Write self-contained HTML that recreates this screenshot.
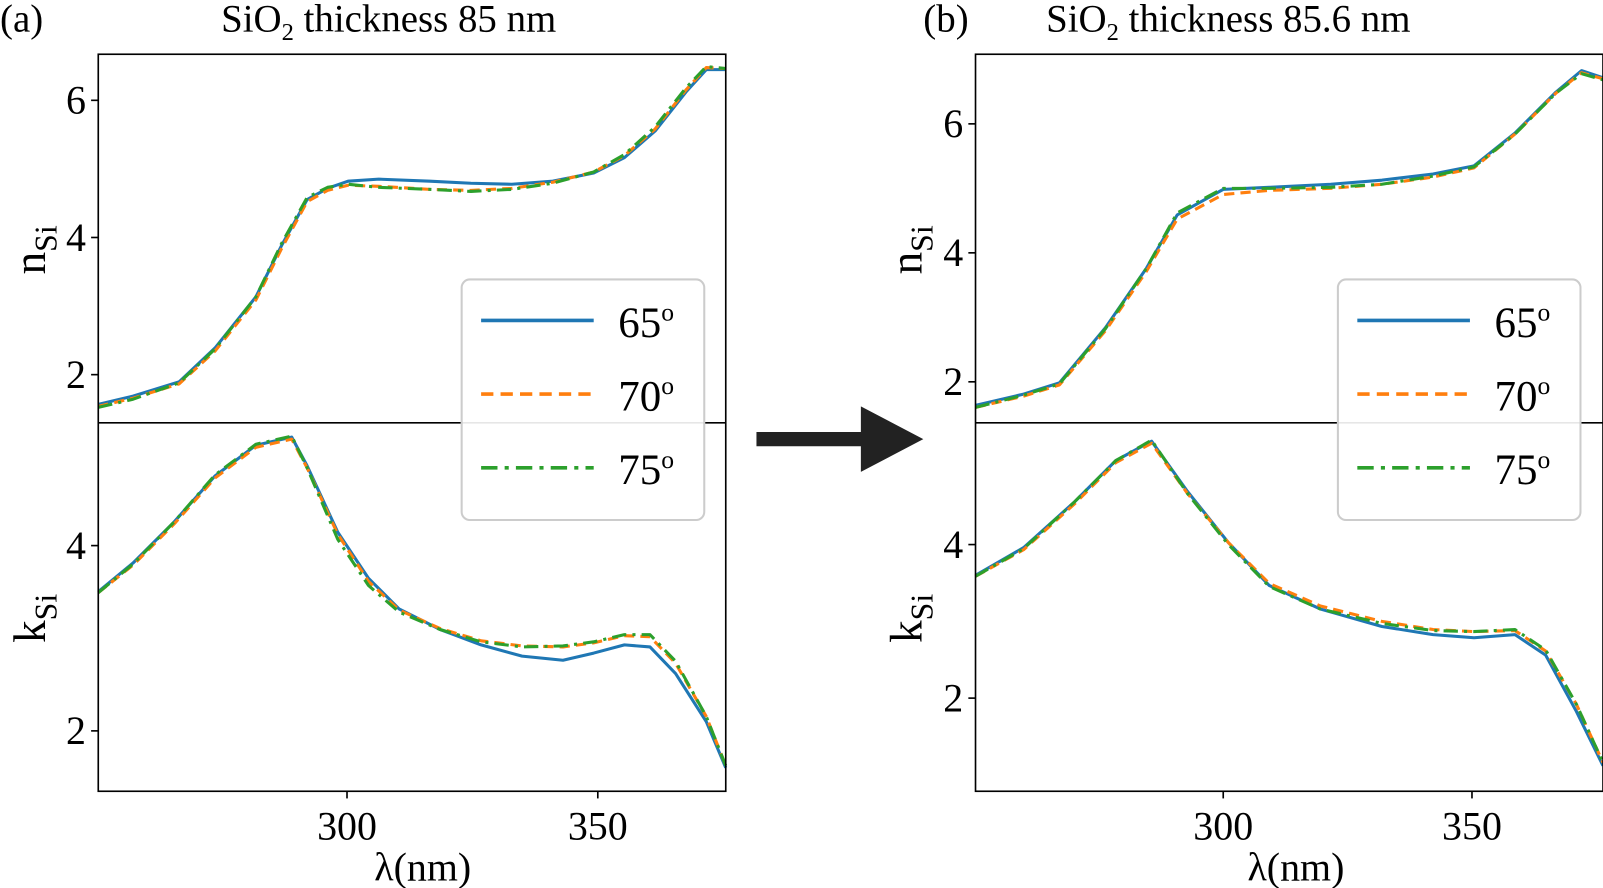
<!DOCTYPE html>
<html><head><meta charset="utf-8"><style>
html,body{margin:0;padding:0;background:#fff;}
svg{display:block;}
text{font-family:"Liberation Serif",serif;fill:#000;}
</style></head><body>
<svg width="1603" height="888" viewBox="0 0 1566 867.5" preserveAspectRatio="none" xmlns="http://www.w3.org/2000/svg">
<g fill="none" stroke-width="3" stroke-linejoin="round" stroke-linecap="butt">
<polyline stroke="#1f77b4" points="96,395 130,387 175,373 210,340 250,290 275,240 300,195 320,184 340,177 370,175 420,177 460,179 500,180 540,177 580,169 610,154 640,128 670,90 690,68 709,68"/>
<polyline stroke="#ff7f0e" stroke-dasharray="10,6" points="96,397 130,389 175,375 210,343 250,293 275,243 300,197 320,186 340,181 370,182 420,185 460,186 500,184 540,178 580,168 610,152 640,126 670,88 690,66 709,67"/>
<polyline stroke="#2ca02c" stroke-dasharray="14,6,3,6" points="96,398 130,390 175,374 210,341 250,290 275,238 300,193 320,183 340,180 370,183 420,185 460,187 500,185 540,179 580,168 610,151 640,124 670,86 690,65 709,67"/>
<polyline stroke="#1f77b4" points="96,578 130,550 170,510 210,465 250,435 285,427 300,455 330,520 360,565 390,595 430,615 470,630 510,641 550,645 580,638 610,630 635,632 660,658 690,705 709,750"/>
<polyline stroke="#ff7f0e" stroke-dasharray="10,6" points="96,579 130,552 170,512 210,467 250,437 285,429 300,457 330,522 360,568 390,596 430,614 470,626 510,631 550,632 580,628 610,621 635,622 660,648 690,700 709,748"/>
<polyline stroke="#2ca02c" stroke-dasharray="14,6,3,6" points="96,579 130,551 170,510 210,464 250,434 285,426 300,457 330,527 360,572 390,598 430,615 470,627 510,632 550,631 580,627 610,620 635,620 660,646 690,700 709,748"/>
<polyline stroke="#1f77b4" points="953,396 1000,385 1035,374 1080,320 1120,262 1150,210 1195,185 1240,183 1300,180 1350,176 1400,170 1440,162 1480,130 1520,90 1545,69 1566,76"/>
<polyline stroke="#ff7f0e" stroke-dasharray="10,6" points="953,398 1000,387 1035,376 1080,323 1120,265 1150,214 1195,190 1240,186 1300,184 1350,180 1400,173 1440,164 1480,131 1520,91 1545,71 1566,77"/>
<polyline stroke="#2ca02c" stroke-dasharray="14,6,3,6" points="953,398 1000,386 1035,375 1080,321 1120,262 1150,208 1195,184 1240,184 1300,183 1350,180 1400,172 1440,163 1480,131 1520,91 1545,72 1566,78"/>
<polyline stroke="#1f77b4" points="953,562 1000,535 1050,490 1090,450 1125,431 1160,480 1200,530 1240,572 1290,595 1350,612 1400,620 1440,623 1480,620 1510,640 1540,695 1566,748"/>
<polyline stroke="#ff7f0e" stroke-dasharray="10,6" points="953,563 1000,537 1050,492 1090,452 1125,433 1160,482 1200,530 1240,570 1290,592 1350,607 1400,615 1440,617 1480,616 1510,636 1540,688 1566,745"/>
<polyline stroke="#2ca02c" stroke-dasharray="14,6,3,6" points="953,563 1000,536 1050,490 1090,450 1125,430 1160,482 1200,532 1240,573 1290,595 1350,609 1400,616 1440,617 1480,615 1510,635 1540,688 1566,745"/>
</g>
<g fill="none" stroke="#000" stroke-width="1.6">
<rect x="96" y="53" width="613" height="720"/>
<line x1="96" y1="413" x2="709" y2="413"/>
<rect x="953" y="53" width="613" height="720"/>
<line x1="953" y1="413" x2="1566" y2="413"/>
<line x1="96" y1="98" x2="89" y2="98"/><line x1="96" y1="232" x2="89" y2="232"/><line x1="96" y1="366" x2="89" y2="366"/>
<line x1="96" y1="533" x2="89" y2="533"/><line x1="96" y1="714" x2="89" y2="714"/>
<line x1="339" y1="773" x2="339" y2="780"/><line x1="584" y1="773" x2="584" y2="780"/>
<line x1="953" y1="121" x2="946" y2="121"/><line x1="953" y1="247" x2="946" y2="247"/><line x1="953" y1="373" x2="946" y2="373"/>
<line x1="953" y1="532" x2="946" y2="532"/><line x1="953" y1="682" x2="946" y2="682"/>
<line x1="1195" y1="773" x2="1195" y2="780"/><line x1="1438" y1="773" x2="1438" y2="780"/>
</g>
<g>
<rect x="451" y="273" width="237" height="235" rx="8" fill="#fff" fill-opacity="0.9" stroke="#ccc" stroke-width="2"/>
<line x1="470" y1="313" x2="580" y2="313" stroke="#1f77b4" stroke-width="3.5"/>
<line x1="470" y1="385" x2="580" y2="385" stroke="#ff7f0e" stroke-width="3.5" stroke-dasharray="12,7"/>
<line x1="470" y1="457" x2="580" y2="457" stroke="#2ca02c" stroke-width="3.5" stroke-dasharray="16,7,4,7"/>
<text x="604" y="329" font-size="42">65<tspan font-size="25" dy="-16">o</tspan></text>
<text x="604" y="401" font-size="42">70<tspan font-size="25" dy="-16">o</tspan></text>
<text x="604" y="473" font-size="42">75<tspan font-size="25" dy="-16">o</tspan></text>
<rect x="1307" y="273" width="237" height="235" rx="8" fill="#fff" fill-opacity="0.9" stroke="#ccc" stroke-width="2"/>
<line x1="1326" y1="313" x2="1436" y2="313" stroke="#1f77b4" stroke-width="3.5"/>
<line x1="1326" y1="385" x2="1436" y2="385" stroke="#ff7f0e" stroke-width="3.5" stroke-dasharray="12,7"/>
<line x1="1326" y1="457" x2="1436" y2="457" stroke="#2ca02c" stroke-width="3.5" stroke-dasharray="16,7,4,7"/>
<text x="1460" y="329" font-size="42">65<tspan font-size="25" dy="-16">o</tspan></text>
<text x="1460" y="401" font-size="42">70<tspan font-size="25" dy="-16">o</tspan></text>
<text x="1460" y="473" font-size="42">75<tspan font-size="25" dy="-16">o</tspan></text>
</g>
<g font-size="39" text-anchor="end">
<text x="84" y="111">6</text><text x="84" y="245">4</text><text x="84" y="379">2</text>
<text x="84" y="546">4</text><text x="84" y="727">2</text>
<text x="941" y="134">6</text><text x="941" y="260">4</text><text x="941" y="386">2</text>
<text x="941" y="545">4</text><text x="941" y="695">2</text>
</g>
<g font-size="39" text-anchor="middle">
<text x="339" y="820">300</text><text x="584" y="820">350</text>
<text x="1195" y="820">300</text><text x="1438" y="820">350</text>
<text x="413" y="860">λ(nm)</text><text x="1266" y="860">λ(nm)</text>
</g>
<text font-size="44" transform="translate(44,268) rotate(-90)">n<tspan font-size="31" dy="11">Si</tspan></text>
<text font-size="44" transform="translate(44,628) rotate(-90)">k<tspan font-size="31" dy="11">Si</tspan></text>
<text font-size="44" transform="translate(900,268) rotate(-90)">n<tspan font-size="31" dy="11">Si</tspan></text>
<text font-size="44" transform="translate(900,628) rotate(-90)">k<tspan font-size="31" dy="11">Si</tspan></text>
<text x="0" y="31" font-size="38">(a)</text>
<text x="216" y="31" font-size="38">SiO<tspan font-size="24" dy="8">2</tspan><tspan dy="-8"> thickness 85 nm</tspan></text>
<text x="902" y="31" font-size="38">(b)</text>
<text x="1022" y="31" font-size="38">SiO<tspan font-size="24" dy="8">2</tspan><tspan dy="-8"> thickness 85.6 nm</tspan></text>
<polygon points="739,422 841,422 841,397 902,429 841,461 841,436 739,436" fill="#222"/>
</svg>
</body></html>
